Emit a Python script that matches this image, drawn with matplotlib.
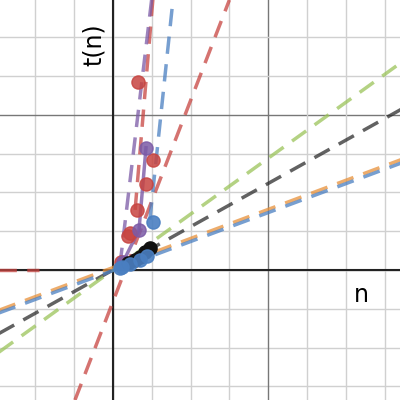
import numpy as np
import matplotlib.pyplot as plt

U = 38.8
# points in graph units
red_x = [0.65, 0.85, 1.03, 0.62, 0.44, 0.39, 0.21]
red_y = [4.85, 2.21, 2.84, 1.55, 0.95, 0.88, 0.21]
pur_x = [0.85, 0.67, 0.26]
pur_y = [3.15, 1.03, 0.21]
blu_x = [1.03, 0.70, 0.44, 0.23, 0.88, 0.18]
blu_y = [1.24, 0.26, 0.15, 0.08, 0.36, 0.05]
blk_x = [0.96, 0.83, 0.70, 0.57, 0.39]
blk_y = [0.57, 0.46, 0.34, 0.26, 0.18]

# dashed lines: (color, x0, y0, x1, y1)
lines = [
    ('#2d2d2d', -3, -1.67, 8, 4.46),
    ('#9bc45a', -3, -2.16, 8, 5.76),
    ('#e8913a', -3, -1.06, 8, 3.06),
    ('#4a7fc1', -3, -1.13, 8, 2.97),
    ('#c74440', -0.98, -3.35, 3.0, 6.96),
    ('#c74440', 0.57, 1.55, 1.03, 7.0),
    ('#7b5aa6', 0.18, 0.13, 1.0, 7.0),
    ('#4a7fc1', 0.95, 1.3, 1.55, 7.0),
]

fig = plt.figure(figsize=(4, 4), dpi=100)
ax = fig.add_axes([0, 0, 1, 1])
ax.set_xlim(-113 / U, 287 / U)
ax.set_ylim(-130 / U, 270 / U)
for v in np.arange(-3, 8):
    ax.axvline(v, color='#777777' if v % 4 == 0 else '#d0d0d0', lw=1, zorder=0)
    ax.axhline(v, color='#777777' if v % 4 == 0 else '#d0d0d0', lw=1, zorder=0)
ax.axvline(0, color='#222222', lw=1.5, zorder=1)
ax.axhline(0, color='#222222', lw=1.5, zorder=1)

for c, x0, y0, x1, y1 in lines:
    ax.plot([x0, x1], [y0, y1], color=c, lw=2.5, ls=(0, (5, 3)), alpha=0.75, zorder=2)
ax.plot([-3, -1.9], [0, 0], color='#c74440', lw=2.5, ls=(0, (5, 3)), alpha=0.75, zorder=2)
ax.plot(pur_x, pur_y, color='#7b5aa6', lw=2.5, alpha=0.8, zorder=3)

ax.scatter(red_x, red_y, s=90, color='#c74440', alpha=0.85, zorder=4)
ax.scatter(pur_x, pur_y, s=90, color='#7b5aa6', alpha=0.85, zorder=4)
ax.scatter(blk_x, blk_y, s=90, color='#111111', zorder=5)
ax.scatter(blu_x, blu_y, s=90, color='#4a7fc1', alpha=0.9, zorder=6)

ax.text(-0.5, 5.8, 't(n)', fontsize=17, rotation=90, ha='center', va='center', color='black')
ax.text(6.4, -0.65, 'n', fontsize=17, ha='center', va='center', color='black')
ax.set_xticks([])
ax.set_yticks([])
for s in ax.spines.values():
    s.set_visible(False)
fig.savefig('out.png')
